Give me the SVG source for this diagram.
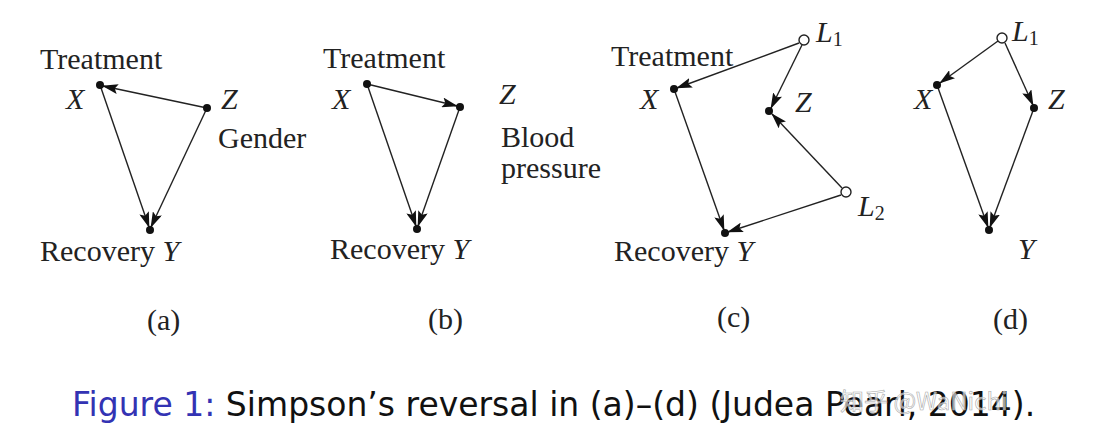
<svg xmlns="http://www.w3.org/2000/svg" width="1105" height="448" viewBox="0 0 1105 448">
<style>
.t{font-family:"Liberation Serif",serif;font-size:30px;fill:#222}
.i{font-family:"Liberation Serif",serif;font-size:30px;font-style:italic;fill:#222}
.s{font-family:"Liberation Serif",serif;font-size:20px;font-style:normal;fill:#222}
.c{font-family:"DejaVu Sans",sans-serif;font-size:33px;fill:#111}
.e{stroke:#222;stroke-width:1.4;fill:none;marker-end:url(#a)}
.d{fill:#111}
.o{fill:#fff;stroke:#222;stroke-width:1.4}
</style>
<defs><marker id="a" viewBox="0 0 16 10" refX="15" refY="5" markerWidth="16" markerHeight="10" markerUnits="userSpaceOnUse" orient="auto"><path d="M0,0 L16,5 L0,10 L3,5 Z" fill="#111"/></marker></defs>
<rect width="1105" height="448" fill="#fff"/>
<g id="connectors">
<line class="e" x1="207" y1="108" x2="103" y2="86"/>
<line class="e" x1="100" y1="85" x2="149" y2="227"/>
<line class="e" x1="207" y1="108" x2="151" y2="227"/>
<line class="e" x1="367" y1="84" x2="457" y2="106"/>
<line class="e" x1="367" y1="84" x2="416" y2="226"/>
<line class="e" x1="460" y1="107" x2="418" y2="226"/>
<line class="e" x1="799" y1="43" x2="677" y2="88"/>
<line class="e" x1="802" y1="45" x2="771" y2="108"/>
<line class="e" x1="842" y1="188" x2="772" y2="114"/>
<line class="e" x1="841" y1="195" x2="728" y2="232"/>
<line class="e" x1="674" y1="89" x2="724" y2="230"/>
<line class="e" x1="998" y1="41" x2="940" y2="83"/>
<line class="e" x1="1005" y1="43" x2="1033" y2="105"/>
<line class="e" x1="937" y1="85" x2="988" y2="227"/>
<line class="e" x1="1034" y1="108" x2="990" y2="227"/>
</g>
<g id="a-graph">
<circle class="d" cx="100" cy="85" r="4"/><circle class="d" cx="207" cy="108" r="4"/><circle class="d" cx="150" cy="230" r="4"/>
<text class="t" x="40" y="69">Treatment</text><text class="i" x="66" y="109">X</text><text class="i" x="221" y="109">Z</text>
<text class="t" x="218" y="148">Gender</text><text class="t" x="40" y="261">Recovery <tspan class="i">Y</tspan></text>
<text class="t" x="147" y="330">(a)</text>
</g>
<g id="b-graph">
<circle class="d" cx="367" cy="84" r="4"/><circle class="d" cx="460" cy="107" r="4"/><circle class="d" cx="417" cy="229" r="4"/>
<text class="t" x="323" y="68">Treatment</text><text class="i" x="332" y="109">X</text><text class="i" x="499" y="104">Z</text>
<text class="t" x="501" y="147">Blood</text><text class="t" x="501" y="178">pressure</text>
<text class="t" x="330" y="259">Recovery <tspan class="i">Y</tspan></text>
<text class="t" x="428" y="329">(b)</text>
</g>
<g id="c-graph">
<circle class="o" cx="804" cy="40" r="5"/><circle class="d" cx="674" cy="89" r="4"/><circle class="d" cx="769" cy="111" r="4"/>
<circle class="o" cx="846" cy="192" r="5"/><circle class="d" cx="725" cy="233" r="4"/>
<text class="t" x="611" y="66">Treatment</text><text class="i" x="640" y="109">X</text><text class="i" x="795" y="112">Z</text>
<text class="i" x="816" y="42">L<tspan class="s" dy="4">1</tspan></text>
<text class="i" x="858" y="216">L<tspan class="s" dy="4">2</tspan></text>
<text class="t" x="614" y="261">Recovery <tspan class="i">Y</tspan></text>
<text class="t" x="717" y="327">(c)</text>
</g>
<g id="d-graph">
<circle class="o" cx="1002" cy="38" r="5"/><circle class="d" cx="937" cy="85" r="4"/><circle class="d" cx="1034" cy="108" r="4"/><circle class="d" cx="989" cy="230" r="4"/>
<text class="i" x="1012" y="41">L<tspan class="s" dy="4">1</tspan></text>
<text class="i" x="914" y="109">X</text><text class="i" x="1048" y="109">Z</text><text class="i" x="1018" y="259">Y</text>
<text class="t" x="993" y="329">(d)</text>
</g>
<text class="c" x="72" y="416"><tspan fill="#3333b3">Figure 1:</tspan> Simpson’s reversal in (a)–(d) (Judea Pearl, 2014).</text>
<text x="840" y="410" font-family="Noto Sans CJK SC,sans-serif" font-size="24" fill="#fff" fill-opacity="0.6" stroke="#aaa" stroke-width="0.6">知乎 @WaNichi</text>
</svg>
